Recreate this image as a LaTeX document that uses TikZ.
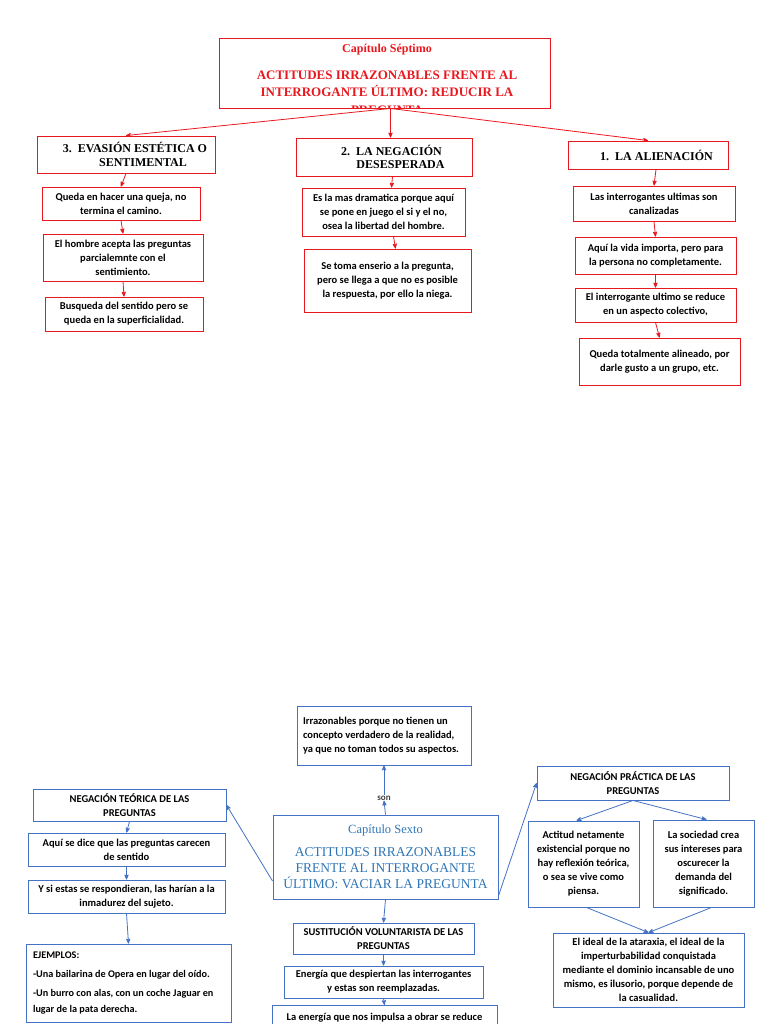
\documentclass[tikz,border=0pt]{standalone}
\usepackage{fontspec}
\setmainfont{Liberation Serif}
\newfontfamily\calib{Carlito}
\usetikzlibrary{arrows}
\definecolor{boxred}{RGB}{232,24,30}
\definecolor{boxblue}{RGB}{68,114,196}
\definecolor{capblue}{RGB}{46,117,182}
\tikzset{
  txtnode/.style = {align=center, inner sep=0pt, text centered,
    font=\calib\bfseries\fontsize{10.5}{14}\selectfont},
  rb/.style = {txtnode, rectangle, draw=boxred, line width=0.9pt},% red box
  bb/.style = {txtnode, rectangle, draw=boxblue, line width=0.9pt},% blue box
  hd/.style = {rb, font=\bfseries\fontsize{12}{13.5}\selectfont},% red heading box
  sz/.style 2 args = {minimum width=#1pt, minimum height=#2pt}% box size
}

\begin{document}
\begin{tikzpicture}[->,>=stealth',x=1pt,y=-1pt,line width=0.8pt]
\useasboundingbox (0,0) rectangle (768,1024);

% Capitulo Septimo
\node [rb, sz={331}{70}] (ttl) at (384.5,73) {};
\begin{scope}
  \clip (ttl.north west) rectangle (ttl.south east);
  \node [txtnode, text=boxred, anchor=north,
    font=\bfseries\fontsize{13}{17.5}\selectfont] (ttltxt) at (387,44)
    {{\fontsize{12}{13}\selectfont Capítulo Séptimo}\\[9pt]
     ACTITUDES IRRAZONABLES FRENTE AL\\
     INTERROGANTE ÚLTIMO: REDUCIR LA\\
     PREGUNTA};
\end{scope}

\node [hd, sz={178}{37}] (h3) at (126,154.5) {\hspace*{18pt}3.\ \ EVASIÓN ESTÉTICA O\\\hspace*{34pt}SENTIMENTAL};
\node [hd, sz={176}{38}] (h2) at (384.5,157) {\hspace*{14pt}2.\ \ LA NEGACIÓN\\\hspace*{32pt}DESESPERADA};
\node [hd, sz={160}{28}] (h1) at (648,155) {\hspace*{17pt}1.\ \ LA ALIENACIÓN};

\node [rb, sz={158}{33}] (q1) at (121,203.5) {Queda en hacer una queja, no\\termina el camino.};
\node [rb, sz={160}{47}] (q2) at (123,257.5) {El hombre acepta las preguntas\\parcialemnte con el\\sentimiento.};
\node [rb, sz={158}{34}] (q3) at (124,314) {Busqueda del sentido pero se\\queda en la superficialidad.};

\node [rb, sz={163}{48}] (m1) at (383.5,212) {Es la mas dramatica porque aquí\\se pone en juego el si y el no,\\osea la libertad del hombre.};
\node [rb, sz={167}{63}] (m2) at (387.5,280.5) {Se toma enserio a la pregunta,\\pero se llega a que no es posible\\la respuesta, por ello la niega.};

\node [rb, sz={162}{35}] (r1) at (654,203.5) {Las interrogantes ultimas son\\canalizadas};
\node [rb, sz={161}{37}] (r2) at (655.5,255.5) {Aquí la vida importa, pero para\\la persona no completamente.};
\node [rb, sz={161}{34}] (r3) at (655.5,305) {El interrogante ultimo se reduce\\en un aspecto colectivo,};
\node [rb, sz={161}{47}] (r4) at (659.5,361.5) {Queda totalmente alineado, por\\darle gusto a un grupo, etc.};

\draw [boxred] ([xshift=6pt]ttl.south) -- (h3.north);
\draw [boxred] ([xshift=6pt]ttl.south) -- ([xshift=6pt]h2.north);
\draw [boxred] ([xshift=6pt]ttl.south) -- (h1.north);
\foreach \a/\b in {h3/q1, q1/q2, q2/q3, r1/r2, r2/r3, r3/r4}
  \draw [boxred] (\a.south) -- (\b.north);
\draw [boxred] ([xshift=8pt]h2.south) -- ([xshift=8pt]m1.north);
\draw [boxred] ([xshift=10pt]m1.south) -- ([xshift=8pt]m2.north);
\draw [boxred] ([xshift=8pt]h1.south) -- (r1.north);

% Capitulo Sexto
\node [bb, sz={225}{84}, text=capblue, font=\fontsize{13.5}{16}\selectfont] (cap) at (385.5,857)
  {{\fontsize{12.5}{13}\selectfont Capítulo Sexto}\\[7pt]
   ACTITUDES IRRAZONABLES\\FRENTE AL INTERROGANTE\\ÚLTIMO: VACIAR LA PREGUNTA};
\node [bb, sz={174}{59}, text width=162pt, align=flush left] (irr) at (384,735.5)
  {Irrazonables porque no tienen un\\concepto verdadero de la realidad,\\ya que no toman todos su aspectos.\\[4pt]};
\node [txtnode, text=black!75, font=\calib\bfseries\fontsize{9}{10}\selectfont] (son) at (384,798) {son};

\node [bb, sz={193}{32}] (nt) at (129.5,805) {NEGACIÓN TEÓRICA DE LAS\\PREGUNTAS};
\node [bb, sz={197}{33}] (l1) at (126.5,849.5) {Aquí se dice que las preguntas carecen\\de sentido};
\node [bb, sz={197}{33}] (l2) at (126.5,896.5) {Y si estas se respondieran, las harían a la\\inmadurez del sujeto.};
\node [bb, sz={205}{78}, text width=191pt, align=flush left, font=\calib\bfseries\fontsize{10.2}{15.5}\selectfont] (l3) at (128.5,983)
  {EJEMPLOS:\\[3.5pt]-Una bailarina de Opera en lugar del oído.\\[3.5pt]-Un burro con alas, con un coche Jaguar en\\lugar de la pata derecha.};

\node [bb, sz={181}{31}] (s1) at (383.5,938.5) {SUSTITUCIÓN VOLUNTARISTA DE LAS\\PREGUNTAS};
\node [bb, sz={199}{32}] (s2) at (383.5,982) {Energía que despiertan las interrogantes\\y estas son reemplazadas.};
\node [bb, sz={225}{40}, anchor=north] (s3) at (384.5,1005) {La energía que nos impulsa a obrar se reduce\\\strut};

\node [bb, sz={192}{34}] (np) at (633,783) {NEGACIÓN PRÁCTICA DE LAS\\PREGUNTAS};
\node [bb, sz={111}{86}] (a1) at (583.5,864) {Actitud netamente\\existencial porque no\\hay reflexión teórica,\\o sea se vive como\\piensa.};
\node [bb, sz={101}{87}] (a2) at (703.5,863.5) {La sociedad crea\\sus intereses para\\oscurecer la\\demanda del\\significado.};
\node [bb, sz={191}{74}] (a3) at (648.5,970) {El ideal de la ataraxia, el ideal de la\\imperturbabilidad conquistada\\mediante el dominio incansable de uno\\mismo, es ilusorio, porque depende de\\la casualidad.};

\draw [boxblue] (cap.north) -- (son.south);
\draw [boxblue] (son.north) -- (irr.south);
\draw [boxblue] (cap.192) -- (nt.east);
\draw [boxblue] (cap.-19) -- (np.west);
\foreach \a/\b in {cap/s1, s1/s2, s2/s3, nt/l1, l1/l2, l2/l3}
  \draw [boxblue] (\a.south) -- (\b.north);
\draw [boxblue] (np.south) -- ([xshift=-7pt]a1.north);
\draw [boxblue] (np.south) -- ([xshift=3pt]a2.north);
\draw [boxblue] ([xshift=3pt]a1.south) -- (a3.north);
\draw [boxblue] ([xshift=8pt]a2.south) -- (a3.north);
\end{tikzpicture}
\end{document}
